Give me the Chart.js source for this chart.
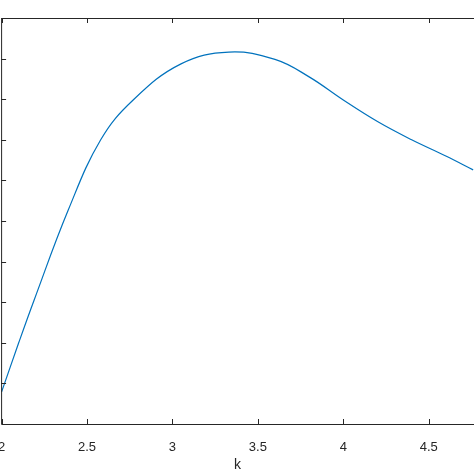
<!DOCTYPE html>
<html>
<head>
<script src="https://cdn.jsdelivr.net/npm/chart.js@4"></script>
<style>
  html, body { margin: 0; padding: 0; background: #fff; overflow: hidden; }
  #wrap { width: 484px; height: 474px; margin-left: -10px; }
</style>
</head>
<body>
<div id="wrap"><canvas id="myChart"></canvas></div>
<script>
const kValues = [2.0, 2.1, 2.19, 2.39, 2.58, 2.77, 3.05, 3.33, 3.6, 3.8, 4.0, 4.2, 4.4, 4.6, 4.76];
const curveValues = [0.79, 2.0, 3.05, 5.27, 7.0, 7.98, 8.87, 9.16, 8.98, 8.55, 7.98, 7.45, 7.0, 6.6, 6.26];
const xTicks = [2, 2.5, 3, 3.5, 4, 4.5];
const yTicks = [1, 2, 3, 4, 5, 6, 7, 8, 9];

const matlabAxes = {
  id: "matlabAxes",
  afterDraw(chart) {
    const { ctx, chartArea: a, scales } = chart;
    ctx.save();
    ctx.strokeStyle = "#262626";
    ctx.lineWidth = 1;
    ctx.beginPath();
    ctx.moveTo(a.left + 0.5, a.top + 0.5);
    ctx.lineTo(a.right, a.top + 0.5);
    ctx.moveTo(a.left + 0.5, a.top);
    ctx.lineTo(a.left + 0.5, a.bottom + 0.5);
    ctx.lineTo(a.right, a.bottom + 0.5);
    xTicks.forEach((t) => {
      const px = Math.round(scales.x.getPixelForValue(t)) + 0.5;
      ctx.moveTo(px, a.bottom);
      ctx.lineTo(px, a.bottom - 5);
      ctx.moveTo(px, a.top);
      ctx.lineTo(px, a.top + 5);
    });
    yTicks.forEach((t) => {
      const py = Math.round(scales.y.getPixelForValue(t)) + 0.5;
      ctx.moveTo(a.left, py);
      ctx.lineTo(a.left + 5, py);
    });
    ctx.stroke();
    ctx.restore();
  },
};

new Chart(document.getElementById("myChart").getContext("2d"), {
  type: "line",
  data: {
    datasets: [
      {
        data: kValues.map((k, i) => ({ x: k, y: curveValues[i] })),
        borderColor: "#0072bd",
        borderWidth: 1.2,
        pointRadius: 0,
        tension: 0.4,
        fill: false,
      },
    ],
  },
  options: {
    responsive: true,
    maintainAspectRatio: false,
    animation: false,
    layout: { padding: { left: 1, top: 18, right: 0, bottom: 0 } },
    plugins: { legend: { display: false }, tooltip: { enabled: false } },
    scales: {
      x: {
        type: "linear",
        min: 1.997,
        max: 4.765,
        afterBuildTicks: (s) => { s.ticks = xTicks.map((v) => ({ value: v })); },
        afterFit: (s) => { s.height = 50; },
        grid: { display: false },
        border: { display: false },
        ticks: {
          color: "#262626",
          padding: 8,
          maxRotation: 0,
          font: { family: "Liberation Sans", size: 13 },
          callback: (v) => String(v),
        },
        title: {
          display: true,
          text: "k",
          color: "#262626",
          padding: { top: 2, bottom: 0 },
          font: { family: "Liberation Sans", size: 14 },
        },
      },
      y: {
        display: false,
        min: 0,
        max: 10,
      },
    },
  },
  plugins: [matlabAxes],
});
</script>
</body>
</html>
